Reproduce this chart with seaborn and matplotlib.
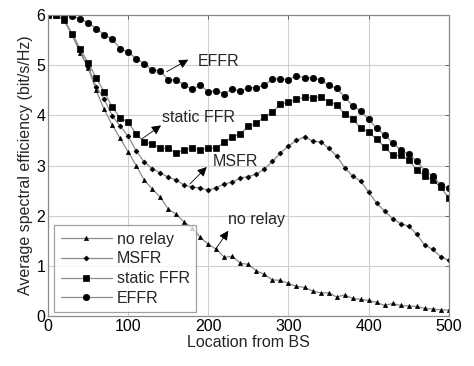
import numpy as np
import pandas as pd
import seaborn as sns
import matplotlib.pyplot as plt

# distance from base station, one sample every 10 m
location = list(range(0, 501, 10))

no_relay = [6.0, 6.0, 5.90, 5.60, 5.25, 4.95, 4.50, 4.12, 3.81, 3.54,
            3.27, 3.00, 2.71, 2.53, 2.37, 2.13, 2.03, 1.87, 1.75, 1.57,
            1.43, 1.33, 1.17, 1.19, 1.05, 1.03, 0.90, 0.83, 0.72, 0.71,
            0.65, 0.59, 0.57, 0.50, 0.46, 0.46, 0.38, 0.42, 0.35, 0.33,
            0.31, 0.27, 0.21, 0.25, 0.21, 0.20, 0.19, 0.15, 0.14, 0.12,
            0.12]
msfr = [6.0, 6.0, 5.90, 5.62, 5.28, 4.97, 4.57, 4.33, 3.99, 3.79,
        3.58, 3.29, 3.07, 2.94, 2.85, 2.77, 2.71, 2.61, 2.57, 2.55,
        2.51, 2.56, 2.63, 2.67, 2.75, 2.78, 2.83, 2.93, 3.08, 3.25,
        3.39, 3.50, 3.57, 3.49, 3.47, 3.35, 3.19, 2.96, 2.79, 2.69,
        2.47, 2.25, 2.09, 1.94, 1.84, 1.79, 1.63, 1.41, 1.33, 1.18,
        1.11]
static_ffr = [6.0, 6.0, 5.90, 5.63, 5.33, 5.05, 4.75, 4.47, 4.17, 3.95,
              3.86, 3.63, 3.47, 3.43, 3.35, 3.34, 3.25, 3.31, 3.35, 3.31,
              3.35, 3.35, 3.47, 3.57, 3.63, 3.78, 3.84, 3.97, 4.07, 4.22,
              4.26, 4.32, 4.36, 4.35, 4.37, 4.27, 4.21, 4.03, 3.93, 3.75,
              3.67, 3.52, 3.37, 3.20, 3.20, 3.11, 2.91, 2.79, 2.71, 2.57,
              2.35]
effr = [6.0, 6.0, 6.0, 5.98, 5.92, 5.85, 5.73, 5.61, 5.52, 5.33,
        5.26, 5.13, 5.03, 4.90, 4.89, 4.71, 4.70, 4.61, 4.52, 4.60,
        4.47, 4.49, 4.43, 4.53, 4.48, 4.55, 4.55, 4.61, 4.72, 4.73,
        4.71, 4.79, 4.75, 4.75, 4.71, 4.60, 4.54, 4.37, 4.19, 4.09,
        3.92, 3.74, 3.61, 3.45, 3.31, 3.23, 3.09, 2.90, 2.79, 2.61,
        2.55]

series_names = ["no relay", "MSFR", "static FFR", "EFFR"]
series_values = [no_relay, msfr, static_ffr, effr]
series_markers = ["^", "D", "s", "o"]
series_msize = [3.0, 2.5, 4.0, 4.6]

sns.set_theme(style="white")
plt.rcParams["font.family"] = ["Liberation Sans", "DejaVu Sans"]

fig = plt.figure(figsize=(4.74, 3.66), dpi=100)
ax = fig.add_axes([0.1013, 0.1366, 0.8455, 0.8224])

for name, vals, mk, ms in zip(series_names, series_values, series_markers, series_msize):
    df = pd.DataFrame({"x": location, "y": vals})
    sns.lineplot(data=df, x="x", y="y", ax=ax, color="#8c8c8c", lw=0.9,
                 marker=mk, markersize=ms, markerfacecolor="black",
                 markeredgecolor="black", markeredgewidth=0.5, label=name)

ax.set_xlim(0, 500)
ax.set_ylim(0, 6)
ax.set_xticks(range(0, 501, 100))
ax.set_yticks(range(0, 7))
ax.grid(True, color="#cfcfcf", lw=0.8)
for sp in ax.spines.values():
    sp.set_color("#8a8a8a")
    sp.set_linewidth(0.9)
ax.tick_params(direction="in", length=3, width=0.6, color="#555555",
               top=True, right=True, labelsize=11.5, pad=2, labelcolor="black")
ax.set_xlabel("Location from BS", fontsize=11.5, labelpad=1)
ax.set_ylabel("Average spectral efficiency (bit/s/Hz)", fontsize=11.5, labelpad=2)

arrow = dict(arrowstyle="-|>", color="black", lw=0.6, mutation_scale=14,
             shrinkA=0, shrinkB=0)
ax.annotate("", xy=(175, 5.11), xytext=(148, 4.87), arrowprops=arrow)
ax.text(187, 5.08, "EFFR", fontsize=11.5, va="center")
ax.annotate("", xy=(141, 3.80), xytext=(117, 3.53), arrowprops=arrow)
ax.text(142, 3.95, "static FFR", fontsize=11.5, va="center")
ax.annotate("", xy=(198, 2.97), xytext=(177, 2.63), arrowprops=arrow)
ax.text(205, 3.07, "MSFR", fontsize=11.5, va="center")
ax.annotate("", xy=(225, 1.70), xytext=(209, 1.33), arrowprops=arrow)
ax.text(225, 1.92, "no relay", fontsize=11.5, va="center")

leg = ax.legend(loc="lower left", bbox_to_anchor=(0.016, 0.012), fontsize=11.5,
                frameon=True, fancybox=False, handlelength=3.2, labelspacing=0.3,
                borderpad=0.4, handletextpad=0.3, borderaxespad=0)
leg.get_frame().set_edgecolor("#8a8a8a")
leg.get_frame().set_linewidth(0.9)

fig.savefig("out.png", dpi=100)
